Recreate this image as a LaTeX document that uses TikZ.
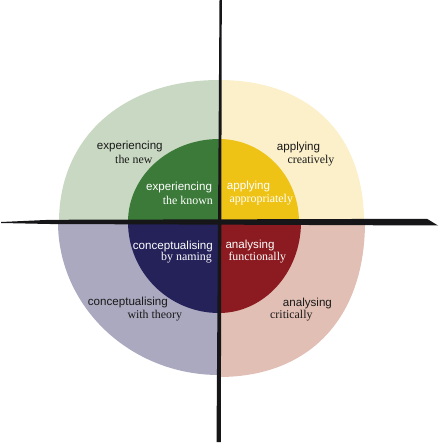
\documentclass[tikz,border=0pt]{standalone}
\usepackage{fontspec}
\setmainfont{Liberation Serif}
\newfontfamily\sansf{Liberation Sans}
\definecolor{outgreen}{RGB}{201,216,194}
\definecolor{outyellow}{RGB}{251,240,202}
\definecolor{outpurple}{RGB}{171,169,191}
\definecolor{outpink}{RGB}{226,191,180}
\definecolor{ingreen}{RGB}{59,122,57}
\definecolor{inyellow}{RGB}{238,195,22}
\definecolor{innavy}{RGB}{37,34,90}
\definecolor{inred}{RGB}{139,27,32}
\definecolor{crossc}{RGB}{22,22,24}
\tikzset{
  lab/.style={inner sep=0pt, anchor=base west, font=\fontsize{11.6}{13}\selectfont},
  sanslab/.style={lab, font=\fontsize{11.6}{13}\selectfont\sansf},
  seriflab/.style={lab, font=\fontsize{11.9}{13}\selectfont},
  darktext/.style={text=black!90},
  lighttext/.style={text=white},
}
\begin{document}
\begin{tikzpicture}[x=1pt,y=-1pt]
\useasboundingbox (0,0) rectangle (439,443);
% outer quadrants
\fill[outgreen] (219,222) -- (59,222) .. controls (59,136.8) and (123.6,80) .. (219,80) -- cycle;
\fill[outyellow] (219,222) -- (364,222) .. controls (364,134) and (308.9,80) .. (219,80) -- cycle;
\fill[outpurple] (219,222) -- (58,222) .. controls (58,306.5) and (130.1,375) .. (219,375) -- cycle;
\fill[outpink] (219,222) -- (365,222) .. controls (365,318) and (309.5,377) .. (219,377) -- cycle;
% inner quadrants
\fill[ingreen] (219,222) -- (128,222) .. controls (128,176.2) and (168.8,139) .. (219,139) -- cycle;
\fill[inyellow] (219,222) -- (299,222) .. controls (299,176.2) and (263.2,139) .. (219,139) -- cycle;
\fill[innavy] (219,222) -- (128,222) .. controls (128,272.2) and (168.8,313) .. (219,313) -- cycle;
\fill[inred] (219,222) -- (301,222) .. controls (301,272.2) and (264.3,313) .. (219,313) -- cycle;
% cross
\fill[crossc] (1,222) -- (50,219.8) -- (427,218.8) -- (438,225.5) -- (50,224) -- (1,223) -- cycle;
\fill[crossc] (219.5,0) -- (221.8,0) -- (220.8,442) -- (216.5,442) -- cycle;
% labels
\node[sanslab,darktext] (en1) at (96.7,150) {experiencing};
\node[seriflab,darktext] (en2) at (115,164) {the new};
\node[sanslab,lighttext] (ek1) at (146,191) {experiencing};
\node[seriflab,lighttext] (ek2) at (162.7,204.5) {the known};
\node[sanslab,darktext] (ac1) at (276.7,150.5) {applying};
\node[seriflab,darktext] (ac2) at (287.3,164) {creatively};
\node[sanslab,lighttext] (aa1) at (226.7,190) {applying};
\node[seriflab,lighttext] (aa2) at (229.3,203) {appropriately};
\node[sanslab,lighttext] (cn1) at (132.7,249) {conceptualising};
\node[seriflab,lighttext] (cn2) at (161,260.5) {by naming};
\node[sanslab,lighttext] (af1) at (225.3,248.5) {analysing};
\node[seriflab,lighttext] (af2) at (228.3,260.5) {functionally};
\node[sanslab,darktext] (ct1) at (87.7,305.5) {conceptualising};
\node[seriflab,darktext] (ct2) at (127.3,318) {with theory};
\node[sanslab,darktext] (ak1) at (282.7,306) {analysing};
\node[seriflab,darktext] (ak2) at (270,318) {critically};
\end{tikzpicture}
\end{document}
